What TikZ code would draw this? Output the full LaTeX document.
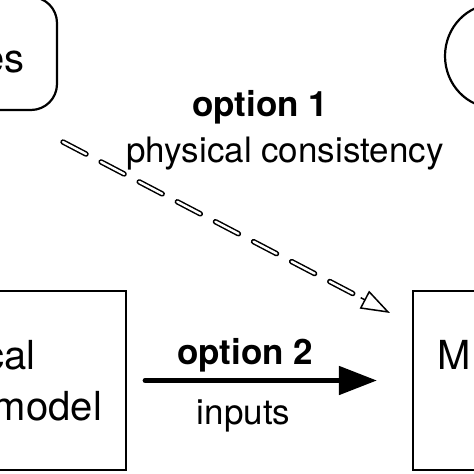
\documentclass[tikz,border=0pt]{standalone}
\usepackage{fontspec}
\setmainfont{TeX Gyre Heros}
\usetikzlibrary{arrows.meta,shapes.geometric,positioning}

\tikzset{
  box/.style={draw, line width=2.2pt, font=\fontsize{40}{51}\selectfont},
  lbl/.style={anchor=base, font=\fontsize{35}{42}\selectfont},
  boldlbl/.style={lbl, font=\fontsize{35}{42}\selectfont\bfseries},
  flow/.style={line width=5pt, line cap=round, -{Triangle[length=38pt, width=28pt]}},
  link/.style={double, double distance=2.4pt, line width=1.5pt, line cap=round,
    dash pattern=on 26pt off 17pt},
  linkhead/.style={line width=1.5pt, -{Triangle[length=29pt, width=20pt, fill=white]}}
}

\begin{document}
\begin{tikzpicture}[x=1pt, y=-1pt]
  \useasboundingbox (0,0) rectangle (474,474);
  \clip (0,0) rectangle (474,474);

  \node[box, rounded corners=26pt, minimum width=200pt, minimum height=113pt,
    text width=136pt, inner xsep=32pt, align=right, text height=38pt, text depth=0pt]
    (proc) at (-43,53.5) {es};
  \node[box, ellipse, minimum width=100pt, minimum height=104pt] (ml) at (495,56) {};

  \node[box, minimum width=156pt, minimum height=179pt, text width=110pt, align=left]
    (model) at (48,380.5) {\hspace*{-9pt}cal\\model};
  \node[box, minimum width=140pt, minimum height=179pt, text width=92pt, align=left,
    text height=29pt, text depth=51pt] (mbox) at (483,380.5) {M};

  \coordinate (from) at (63,142);
  \coordinate (to) at (390,313);
  \draw[link, shorten >=22pt] (from) -- (to);
  \draw[linkhead, shorten <=336pt] (from) -- (to);
  \node[boldlbl] (opt1) at (260,116) {option 1};
  \node[lbl] (cons) at (285,162) {physical consistency};

  \draw[flow, shorten <=18pt, shorten >=35pt] (model) -- (mbox);
  \node[boldlbl] (opt2) at (245,364) {option 2};
  \node[lbl] (inp) at (243.5,424) {inputs};
\end{tikzpicture}
\end{document}
